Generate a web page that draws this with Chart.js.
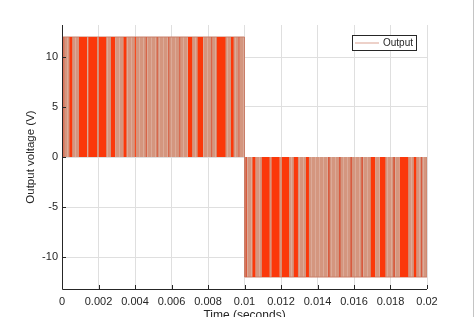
<!DOCTYPE html>
<html>
<head>
  <meta charset="utf-8">
  <title>Output voltage</title>
  <script src="https://cdn.jsdelivr.net/npm/chart.js@4/dist/chart.umd.min.js"></script>
  <style>
    html, body { margin: 0; padding: 0; overflow: hidden; background: #fff; }
    #wrap { position: relative; width: 474px; height: 331px; }
  </style>
</head>
<body>
  <div id="wrap"><canvas id="chart" width="474" height="331"></canvas></div>

<script>
  // two half cycles of the output (times in ms, level in V)
  const halfStartMs = [0, 10];
  const halfEndMs = [10, 20];
  const halfLevel = [12, -12];

  // stretches where the pulses are so dense that the trace looks solid (ms)
  const solidStartMs = [0.40, 0.93, 1.44, 2.01, 2.68, 3.36, 3.98, 6.90, 7.42, 8.47, 9.26,
                        10.43, 10.94, 11.47, 12.04, 12.69, 13.37, 16.91, 17.42, 18.50, 19.27];
  const solidEndMs   = [0.57, 1.37, 1.92, 2.43, 2.92, 3.54, 4.05, 7.14, 7.73, 8.97, 9.41,
                        10.61, 11.38, 11.93, 12.44, 12.93, 13.53, 17.17, 17.73, 18.98, 19.42];

  // single visible edges inside the lighter parts (ms)
  const edgeMs = [0.10, 4.62, 5.22, 5.85, 6.45, 8.20, 9.70,
                  10.10, 14.62, 15.22, 15.85, 16.45, 18.20, 19.70];

  const xTicks = [0, 0.002, 0.004, 0.006, 0.008, 0.01, 0.012, 0.014, 0.016, 0.018, 0.02];
  const yTicks = [-10, -5, 0, 5, 10];

  const AXIS = '#262626';
  const GRID = '#dfdfdf';

  function levelAt(ms) {
    for (let i = 0; i < halfStartMs.length; i++) {
      if (ms >= halfStartMs[i] && ms <= halfEndMs[i]) return halfLevel[i];
    }
    return 0;
  }

  // faint vertical stripes, like many thin pulses blurred together
  function stripes() {
    const c = document.createElement('canvas');
    c.width = 4; c.height = 4;
    const g = c.getContext('2d');
    g.fillStyle = '#d4967f';
    g.fillRect(0, 0, 4, 4);
    g.fillStyle = '#dcaa98';
    g.fillRect(3, 0, 1, 4);
    return g.createPattern(c, 'repeat');
  }

  // outline of the whole waveform
  const envelope = [];
  for (let i = 0; i < halfStartMs.length; i++) {
    if (i === 0) envelope.push({x: halfStartMs[i] / 1000, y: 0});
    envelope.push({x: halfStartMs[i] / 1000, y: halfLevel[i]});
    envelope.push({x: halfEndMs[i] / 1000, y: halfLevel[i]});
  }
  envelope.push({x: halfEndMs[halfEndMs.length - 1] / 1000, y: 0});

  const solid = [];
  solidStartMs.forEach((s, i) => {
    const lvl = levelAt(s);
    solid.push({x: s / 1000, y: lvl});
    solid.push({x: solidEndMs[i] / 1000, y: lvl});
    solid.push({x: solidEndMs[i] / 1000, y: null});
  });

  const edges = [];
  edgeMs.forEach(t => {
    edges.push({x: t / 1000, y: 0});
    edges.push({x: t / 1000, y: levelAt(t)});
    edges.push({x: t / 1000, y: null});
  });

  const axesPlugin = {
    id: 'axesPlugin',
    afterDatasetsDraw(chart) {
      const {ctx, chartArea: a, scales: {x, y}} = chart;
      ctx.save();
      ctx.strokeStyle = AXIS;
      ctx.lineWidth = 1;
      ctx.beginPath();
      ctx.moveTo(a.left + 0.5, a.top);
      ctx.lineTo(a.left + 0.5, a.bottom + 0.5);
      ctx.lineTo(a.right, a.bottom + 0.5);
      xTicks.forEach(v => {
        const px = Math.round(x.getPixelForValue(v)) + 0.5;
        ctx.moveTo(px, a.bottom);
        ctx.lineTo(px, a.bottom - 4);
      });
      yTicks.forEach(v => {
        const py = Math.round(y.getPixelForValue(v)) + 0.5;
        ctx.moveTo(a.left, py);
        ctx.lineTo(a.left + 4, py);
      });
      ctx.stroke();

      // legend box
      const ds = chart.data.datasets.find(d => d.label === 'Output');
      const bx = 352.5, by = 35.5, bw = 64, bh = 15;
      ctx.fillStyle = '#fff';
      ctx.fillRect(bx, by, bw, bh);
      ctx.strokeStyle = AXIS;
      ctx.strokeRect(bx, by, bw, bh);
      ctx.strokeStyle = '#dba393';
      ctx.beginPath();
      ctx.moveTo(355, by + bh / 2);
      ctx.lineTo(379, by + bh / 2);
      ctx.stroke();
      ctx.fillStyle = AXIS;
      ctx.font = '10px "Liberation Sans", Arial, sans-serif';
      ctx.textBaseline = 'middle';
      ctx.fillText(ds.label, 383, by + bh / 2 + 0.5);
      ctx.restore();
    },
    afterDraw(chart) {
      const {ctx} = chart;
      ctx.save();
      ctx.fillStyle = '#c4c4c4';
      ctx.fillRect(473, 0, 1, chart.height);
      ctx.restore();
    }
  };

  const font = {family: '"Liberation Sans", Arial, sans-serif', size: 11};

  new Chart(document.getElementById('chart'), {
    type: 'line',
    data: {
      datasets: [
        {
          label: 'edges',
          data: edges,
          borderColor: '#d85a3e',
          borderWidth: 1,
          pointRadius: 0,
          fill: false,
          spanGaps: false,
          order: 1
        },
        {
          label: 'solid',
          data: solid,
          borderWidth: 0,
          borderColor: 'rgba(0,0,0,0)',
          backgroundColor: '#fb380a',
          pointRadius: 0,
          fill: 'origin',
          spanGaps: false,
          order: 2
        },
        {
          label: 'Output',
          data: envelope,
          borderColor: '#c97e68',
          borderWidth: 1,
          backgroundColor: stripes(),
          pointRadius: 0,
          fill: 'origin',
          order: 3
        }
      ]
    },
    options: {
      responsive: false,
      animation: false,
      events: [],
      layout: {padding: {left: 0, right: 47, top: 25, bottom: 0}},
      plugins: {legend: {display: false}, tooltip: {enabled: false}},
      scales: {
        x: {
          type: 'linear',
          min: 0,
          max: 0.02,
          afterBuildTicks: s => { s.ticks = xTicks.map(v => ({value: v})); },
          afterFit: s => { s.height = 42; },
          grid: {color: GRID, drawTicks: false},
          border: {display: false},
          ticks: {
            color: AXIS, font: font, padding: 6, maxRotation: 0, autoSkip: false,
            callback: v => String(+v.toFixed(4))
          },
          title: {
            display: true, text: 'Time (seconds)', color: AXIS,
            font: {family: font.family, size: 12}, padding: {top: 0, bottom: 8}
          }
        },
        y: {
          type: 'linear',
          min: -13.2,
          max: 13.2,
          afterBuildTicks: s => { s.ticks = yTicks.map(v => ({value: v})); },
          afterFit: s => { s.width = 62; },
          grid: {color: GRID, drawTicks: false},
          border: {display: false},
          ticks: {color: AXIS, font: font, padding: 4},
          title: {
            display: true, text: 'Output voltage (V)', color: AXIS,
            font: {family: font.family, size: 11.5}, padding: {top: 24, bottom: 0}
          }
        }
      }
    },
    plugins: [axesPlugin]
  });
</script>
</body>
</html>
